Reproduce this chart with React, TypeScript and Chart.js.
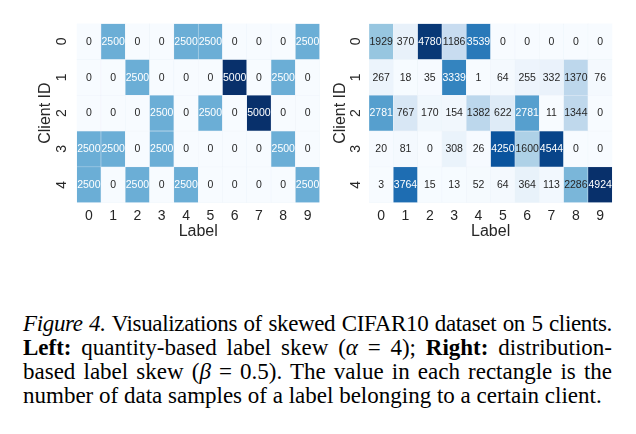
import React, { useEffect, useRef } from 'react';
import { Chart, registerables } from 'chart.js';

Chart.register(...registerables);

// ---- data ----
const labels = ['0', '1', '2', '3', '4', '5', '6', '7', '8', '9'];
const clientIds = ['0', '1', '2', '3', '4'];

// Left: quantity-based label skew
const quantityClient0 = [0, 2500, 0, 0, 2500, 2500, 0, 0, 0, 2500];
const quantityClient1 = [0, 0, 2500, 0, 0, 0, 5000, 0, 2500, 0];
const quantityClient2 = [0, 0, 0, 2500, 0, 2500, 0, 5000, 0, 0];
const quantityClient3 = [2500, 2500, 0, 2500, 0, 0, 0, 0, 2500, 0];
const quantityClient4 = [2500, 0, 2500, 0, 2500, 0, 0, 0, 0, 2500];

// Right: distribution-based label skew
const distributionClient0 = [1929, 370, 4780, 1186, 3539, 0, 0, 0, 0, 0];
const distributionClient1 = [267, 18, 35, 3339, 1, 64, 255, 332, 1370, 76];
const distributionClient2 = [2781, 767, 170, 154, 1382, 622, 2781, 11, 1344, 0];
const distributionClient3 = [20, 81, 0, 308, 26, 4250, 1600, 4544, 0, 0];
const distributionClient4 = [3, 3764, 15, 13, 52, 64, 364, 113, 2286, 4924];

const quantityRows = [quantityClient0, quantityClient1, quantityClient2, quantityClient3, quantityClient4];
const distributionRows = [
  distributionClient0,
  distributionClient1,
  distributionClient2,
  distributionClient3,
  distributionClient4,
];

// ---- colour map (matplotlib "Blues") ----
const BLUES: number[][] = [
  [247, 251, 255],
  [222, 235, 247],
  [198, 219, 239],
  [158, 202, 225],
  [107, 174, 214],
  [66, 146, 198],
  [33, 113, 181],
  [8, 81, 156],
  [8, 48, 107],
];

function blues(t: number): number[] {
  const x = Math.max(0, Math.min(1, t)) * (BLUES.length - 1);
  const i = Math.min(BLUES.length - 2, Math.floor(x));
  const f = x - i;
  const a = BLUES[i];
  const b = BLUES[i + 1];
  return [0, 1, 2].map((k) => Math.round(a[k] + (b[k] - a[k]) * f));
}

function rgbStr(c: number[]) {
  return `rgb(${c[0]},${c[1]},${c[2]})`;
}

function textColorFor(c: number[]) {
  const lin = c.map((v) => {
    const s = v / 255;
    return s <= 0.03928 ? s / 12.92 : Math.pow((s + 0.055) / 1.055, 2.4);
  });
  const lum = 0.2126 * lin[0] + 0.7152 * lin[1] + 0.0722 * lin[2];
  return lum > 0.408 ? '#262626' : '#ffffff';
}

const SANS = '"Liberation Sans", Arial, Helvetica, sans-serif';
const INK = '#262626';

type Layout = {
  canvasLeft: number;
  canvasWidth: number;
  canvasHeight: number;
  padLeft: number;
  padTop: number;
  padRight: number;
  yAxisWidth: number;
  xAxisHeight: number;
  yTickGap: number;
};

function Heatmap({ rows, layout }: { rows: number[][]; layout: Layout }) {
  const ref = useRef<HTMLCanvasElement>(null);

  useEffect(() => {
    if (!ref.current) return;
    const all = rows.flat();
    const vmin = Math.min(...all);
    const vmax = Math.max(...all);
    const colorOf = (v: number) => blues((v - vmin) / (vmax - vmin));

    const datasets = rows.map((row, r) => ({
      label: 'Client ' + clientIds[r],
      data: row.map(() => [r - 0.5, r + 0.5]),
      backgroundColor: row.map((v) => rgbStr(colorOf(v))),
      borderColor: 'rgba(236,243,250,0.9)',
      borderWidth: 0.5,
      borderSkipped: false,
      barPercentage: 1,
      categoryPercentage: 1,
      grouped: false,
    }));

    const annotate = {
      id: 'annotate',
      afterDatasetsDraw(chart: any) {
        const ctx = chart.ctx as CanvasRenderingContext2D;
        const xs = chart.scales.x;
        const ys = chart.scales.y;
        ctx.save();
        ctx.textAlign = 'center';
        ctx.textBaseline = 'middle';
        ctx.font = `10.5px ${SANS}`;
        rows.forEach((row, r) => {
          row.forEach((v, c) => {
            ctx.fillStyle = textColorFor(colorOf(v));
            ctx.fillText(String(v), xs.getPixelForValue(c), ys.getPixelForValue(r) + 0.5);
          });
        });
        // rotated y tick labels
        ctx.font = `14px ${SANS}`;
        ctx.fillStyle = INK;
        ys.ticks.forEach((t: any) => {
          const y = ys.getPixelForValue(t.value);
          ctx.save();
          ctx.translate(chart.chartArea.left - layout.yTickGap, y);
          ctx.rotate(-Math.PI / 2);
          ctx.fillText(clientIds[t.value], 0, 0);
          ctx.restore();
        });
        ctx.restore();
      },
    };

    const chart = new Chart(ref.current, {
      type: 'bar',
      data: { labels, datasets: datasets as any },
      options: {
        animation: false,
        responsive: false,
        events: [],
        layout: {
          padding: { left: layout.padLeft, top: layout.padTop, right: layout.padRight, bottom: 0 },
        },
        plugins: {
          legend: { display: false },
          tooltip: { enabled: false },
        },
        scales: {
          x: {
            type: 'category',
            offset: true,
            grid: { display: false, drawTicks: false },
            border: { display: false },
            ticks: {
              color: INK,
              font: { family: SANS, size: 14 },
              padding: 5,
              maxRotation: 0,
              autoSkip: false,
            },
            title: {
              display: true,
              text: 'Label',
              color: INK,
              font: { family: SANS, size: 16 },
              padding: 0,
            },
            afterFit: (s: any) => {
              s.height = layout.xAxisHeight;
            },
          },
          y: {
            type: 'linear',
            min: -0.5,
            max: 4.5,
            reverse: true,
            grid: { display: false, drawTicks: false },
            border: { display: false },
            ticks: { display: false },
            afterBuildTicks: (s: any) => {
              s.ticks = clientIds.map((_, i) => ({ value: i }));
            },
            title: {
              display: true,
              text: 'Client ID',
              color: INK,
              font: { family: SANS, size: 16 },
              padding: 0,
            },
            afterFit: (s: any) => {
              s.width = layout.yAxisWidth;
            },
          },
        },
      },
      plugins: [annotate],
    } as any);

    return () => chart.destroy();
  }, [rows, layout]);

  return (
    <canvas
      ref={ref}
      width={layout.canvasWidth}
      height={layout.canvasHeight}
      style={{
        position: 'absolute',
        left: layout.canvasLeft,
        top: 0,
        width: layout.canvasWidth,
        height: layout.canvasHeight,
      }}
    />
  );
}

const leftLayout: Layout = {
  canvasLeft: 0,
  canvasWidth: 320,
  canvasHeight: 241,
  padLeft: 36,
  padTop: 23.5,
  padRight: 0.3,
  yAxisWidth: 40.7,
  xAxisHeight: 38.3,
  yTickGap: 15,
};

const rightLayout: Layout = {
  canvasLeft: 292,
  canvasWidth: 344,
  canvasHeight: 241,
  padLeft: 39.4,
  padTop: 23.5,
  padRight: 23.7,
  yAxisWidth: 37.6,
  xAxisHeight: 38.3,
  yTickGap: 12.5,
};

const SERIF = '"Liberation Serif", "Times New Roman", Times, serif';

const lineStyle: React.CSSProperties = {
  textAlign: 'justify',
  textAlignLast: 'justify' as any,
  whiteSpace: 'nowrap',
  height: 24,
};

export default function App() {
  return (
    <div
      style={{
        position: 'absolute',
        left: 0,
        top: 0,
        width: 636,
        height: 434,
        background: '#ffffff',
        overflow: 'hidden',
      }}
    >
      <Heatmap rows={quantityRows} layout={leftLayout} />
      <Heatmap rows={distributionRows} layout={rightLayout} />
      <div
        style={{
          position: 'absolute',
          left: 23,
          top: 312,
          width: 589,
          fontFamily: SERIF,
          fontSize: 23,
          lineHeight: '24px',
          color: '#000',
        }}
      >
        <div style={{ ...lineStyle, letterSpacing: -0.35 }}>
          <i>Figure 4.</i> Visualizations of skewed CIFAR10 dataset on 5 clients.
        </div>
        <div style={lineStyle}>
          <b>Left:</b> quantity-based label skew (<i>α</i> = 4); <b>Right:</b> distribution-
        </div>
        <div style={lineStyle}>
          based label skew (<i>β</i> = 0.5). The value in each rectangle is the
        </div>
        <div style={{ height: 24, whiteSpace: 'nowrap' }}>
          number of data samples of a label belonging to a certain client.
        </div>
      </div>
    </div>
  );
}
